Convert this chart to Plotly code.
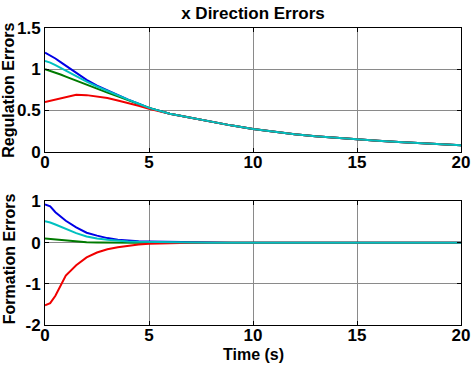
import plotly.graph_objects as go
from plotly.subplots import make_subplots

# Time samples (s)
t = [0, 0.25, 0.5, 0.75, 1, 1.5, 2, 2.5, 3, 3.5, 4, 4.5, 5,
     6, 7, 8, 9, 10, 11, 12, 13, 14, 15, 16, 17, 18, 19, 20]

# Regulation errors
reg_tail = [0.46, 0.41, 0.36, 0.315, 0.275, 0.24, 0.21, 0.185, 0.165, 0.145, 0.13, 0.115, 0.1, 0.088, 0.075]
reg_blue = [1.2, 1.17, 1.13, 1.085, 1.04, 0.95, 0.87, 0.80, 0.74, 0.68, 0.63, 0.58, 0.53] + reg_tail
reg_green = [1.0, 0.98, 0.96, 0.935, 0.91, 0.86, 0.81, 0.76, 0.715, 0.67, 0.625, 0.58, 0.53] + reg_tail
reg_red = [0.6, 0.615, 0.635, 0.65, 0.665, 0.69, 0.685, 0.67, 0.65, 0.62, 0.59, 0.555, 0.52] + reg_tail
reg_cyan = [1.1, 1.08, 1.05, 1.015, 0.98, 0.91, 0.85, 0.79, 0.735, 0.68, 0.63, 0.58, 0.53] + reg_tail

# Formation errors
form_blue = [0.93, 0.88, 0.74, 0.63, 0.53, 0.37, 0.24, 0.17, 0.11, 0.07, 0.05, 0.035, 0.03,
             0.02, 0.01] + [0.0] * 13
form_green = [0.1, 0.09, 0.08, 0.065, 0.05, 0.025, 0.01, 0.005, 0.0, 0.0, 0.0, 0.0, 0.0,
              0.0, 0.0] + [0.0] * 13
form_red = [-1.52, -1.47, -1.29, -1.04, -0.8, -0.55, -0.36, -0.24, -0.16, -0.11, -0.07, -0.045, -0.03,
            -0.01, 0.0] + [0.0] * 13
form_cyan = [0.52, 0.49, 0.44, 0.39, 0.33, 0.23, 0.15, 0.1, 0.07, 0.045, 0.03, 0.02, 0.015,
             0.005, 0.0] + [0.0] * 13

x_ticks = [0, 5, 10, 15, 20]
reg_ticks = [0, 0.5, 1, 1.5]
reg_labels = ["0", "0.5", "1", "1.5"]
form_ticks = [-2, -1, 0, 1]
form_labels = ["-2", "-1", "0", "1"]

colors = {"blue": "#0000E6", "green": "#007A00", "red": "#F00000", "cyan": "#00C0C0"}

fig = make_subplots(rows=2, cols=1, vertical_spacing=0.168)

for name, y in [("blue", reg_blue), ("green", reg_green), ("red", reg_red), ("cyan", reg_cyan)]:
    fig.add_trace(go.Scatter(x=t, y=y, mode="lines", line=dict(color=colors[name], width=2),
                             showlegend=False), row=1, col=1)
for name, y in [("blue", form_blue), ("green", form_green), ("red", form_red), ("cyan", form_cyan)]:
    fig.add_trace(go.Scatter(x=t, y=y, mode="lines", line=dict(color=colors[name], width=2),
                             showlegend=False), row=2, col=1)

font_fam = "Liberation Sans, Arial, sans-serif"
axis_common = dict(showline=True, linecolor="black", linewidth=1, mirror="ticks",
                   ticks="inside", ticklen=4, tickcolor="black", automargin=False,
                   showgrid=True, gridcolor="#8a8a8a", gridwidth=1, zeroline=False,
                   tickfont=dict(family=font_fam, size=17, color="black", weight="bold"))

fig.update_xaxes(range=[0, 20], tickvals=x_ticks, ticklabelstandoff=-5, **axis_common)
fig.update_yaxes(**axis_common)
fig.update_yaxes(range=[0, 1.5], tickvals=reg_ticks, ticktext=reg_labels, row=1, col=1)
fig.update_yaxes(range=[-2, 1], tickvals=form_ticks, ticktext=form_labels, row=2, col=1)

title_font = dict(family=font_fam, size=16, color="black", weight="bold")
fig.add_annotation(text="Regulation Errors", xref="paper", yref="y domain", x=0, y=0.5,
                   xshift=-36, yshift=-1, textangle=-90, showarrow=False, font=title_font,
                   xanchor="center", yanchor="middle")
fig.add_annotation(text="Formation Errors", xref="paper", yref="y2 domain", x=0, y=0.5,
                   xshift=-36, yshift=4, textangle=-90, showarrow=False, font=title_font,
                   xanchor="center", yanchor="middle")
fig.add_annotation(text="Time (s)", xref="x2 domain", yref="paper", x=0.5, y=0, yshift=-29,
                   showarrow=False, font=dict(family=font_fam, size=16, color="black", weight="bold"),
                   xanchor="center", yanchor="middle")

fig.update_layout(
    width=474, height=366,
    margin=dict(l=45, r=13, t=28, b=41),
    paper_bgcolor="white", plot_bgcolor="white",
    title=dict(text="x Direction Errors", xref="paper", x=0.5, xanchor="center",
               y=0.965, yanchor="middle",
               font=dict(family=font_fam, size=17, color="black", weight="bold")),
)

fig.write_html("out.html", config={"displayModeBar": False},
               post_script="document.body.style.margin='0';")
